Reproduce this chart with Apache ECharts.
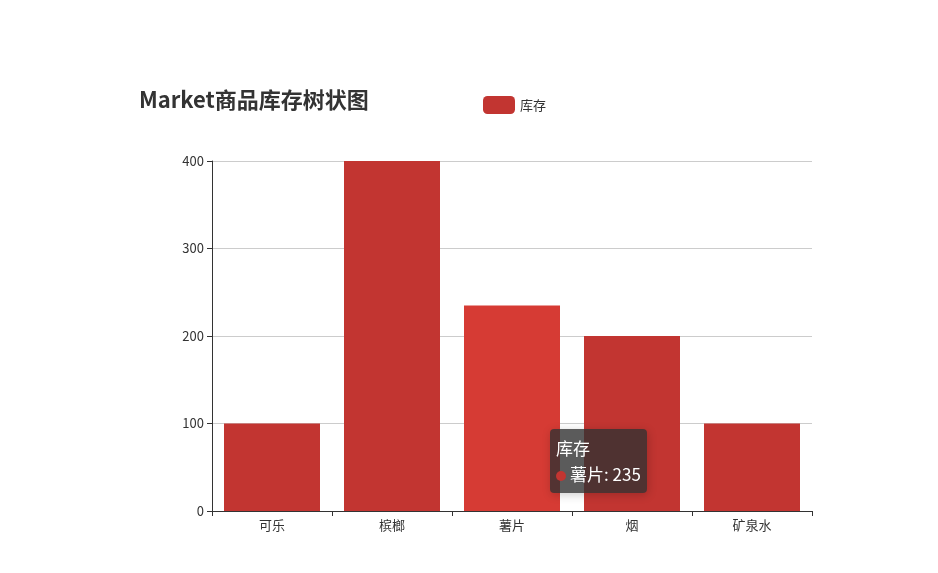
<!DOCTYPE html>
<html>
<head>
<meta charset="utf-8">
<script src="https://cdn.jsdelivr.net/npm/echarts@6/dist/echarts.min.js"></script>
<style>html,body{margin:0;padding:0;background:#fff}#main{width:938px;height:573px}</style>
</head>
<body>
<div id="main"></div>
<script>
var categories = ['可乐', '槟榔', '薯片', '烟', '矿泉水'];
var stock = [100, 400, 235, 200, 100];
var yTicks = { min: 0, max: 400, interval: 100 };

var myChart = echarts.init(document.getElementById('main'));
var option = {
    animation: false,
    textStyle: { fontFamily: 'Microsoft YaHei, Noto Sans CJK SC, sans-serif' },
    title: {
        text: 'Market商品库存树状图',
        left: 134,
        top: 84,
        textStyle: { fontSize: 22, fontWeight: 'bold', color: '#333' }
    },
    legend: {
        data: ['库存'],
        left: 478,
        top: 91,
        itemWidth: 32,
        itemHeight: 18,
        textStyle: { fontSize: 13, color: '#333' }
    },
    tooltip: {
        trigger: 'item',
        backgroundColor: 'rgba(50,50,50,0.8)',
        borderWidth: 0,
        padding: [6, 6],
        textStyle: { color: '#fff', fontSize: 17 },
        position: [550, 429],
        formatter: function (p) {
            return p.seriesName + '<br/>' + p.marker + p.name + ': ' + p.value;
        }
    },
    grid: { left: 212, right: 126, top: 161, bottom: 62 },
    xAxis: {
        type: 'category',
        data: categories,
        axisLine: { lineStyle: { color: '#333' } },
        axisTick: { show: true, alignWithLabel: false, lineStyle: { color: '#333' } },
        axisLabel: { color: '#333', fontSize: 13 }
    },
    yAxis: {
        type: 'value',
        min: yTicks.min,
        max: yTicks.max,
        interval: yTicks.interval,
        axisLine: { show: true, lineStyle: { color: '#333' } },
        axisTick: { show: true, lineStyle: { color: '#333' } },
        axisLabel: { color: '#333', fontSize: 13 },
        splitLine: { lineStyle: { color: '#ccc' } }
    },
    series: [{
        name: '库存',
        type: 'bar',
        data: stock,
        barWidth: '80%',
        itemStyle: { color: '#c23531' },
        emphasis: { itemStyle: { color: '#d63b34' } }
    }]
};
myChart.setOption(option);
myChart.dispatchAction({ type: 'highlight', seriesIndex: 0, dataIndex: 2 });
myChart.dispatchAction({ type: 'showTip', seriesIndex: 0, dataIndex: 2 });
</script>
</body>
</html>
